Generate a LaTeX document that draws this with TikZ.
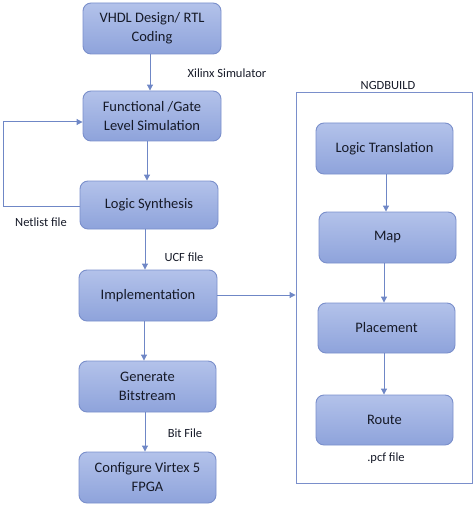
\documentclass[tikz,border=0pt]{standalone}
\usepackage{fontspec}
\setmainfont{Carlito}
\usetikzlibrary{arrows.meta}
\definecolor{boxtop}{HTML}{B3C2EA}
\definecolor{boxbot}{HTML}{8EA3DB}
\definecolor{boxline}{HTML}{7A8FCB}
\definecolor{arr}{HTML}{6F87C6}
\definecolor{txt}{HTML}{161A28}
\tikzset{
  x=1pt,y=-1pt,
  procbox/.style={draw=boxline,line width=0.9pt,rounded corners=8pt,top color=boxtop,bottom color=boxbot,
    text=txt,font=\fontsize{14.5}{19}\selectfont,align=center,inner sep=0pt},
  conn/.style={draw=arr,line width=1pt,-{Triangle[width=6pt,length=6pt]}},
  lbl/.style={text=txt,font=\fontsize{12.5}{15}\selectfont,inner sep=0pt},
}
\begin{document}
\begin{tikzpicture}
\useasboundingbox (0,0) rectangle (474,505);
% left column
\node[procbox,minimum width=138pt,minimum height=51pt] (vhdl) at (152,28.5) {VHDL Design/ RTL\\Coding};
\node[procbox,minimum width=138pt,minimum height=50pt] (func) at (152,116) {Functional /Gate\\Level Simulation};
\node[procbox,minimum width=138pt,minimum height=48pt] (syn) at (149,205) {Logic Synthesis};
\node[procbox,minimum width=138pt,minimum height=51pt] (impl) at (148,295.5) {Implementation};
\node[procbox,minimum width=137pt,minimum height=51pt] (gen) at (147.5,386.5) {Generate\\Bitstream};
\node[procbox,minimum width=137pt,minimum height=51pt] (conf) at (147.5,477.5) {Configure Virtex 5\\FPGA};
% container
\node[draw=boxline,line width=0.9pt,minimum width=176pt,minimum height=391pt,inner sep=0pt] (cont) at (384,287.5) {};
\node[lbl] (ngd) at (388,85) {NGDBUILD};
\node[procbox,minimum width=137pt,minimum height=51pt] (lt) at (384.5,148.5) {Logic Translation};
\node[procbox,minimum width=137pt,minimum height=51pt] (map) at (387.5,237.5) {Map};
\node[procbox,minimum width=137pt,minimum height=50pt] (plc) at (386.5,328) {Placement};
\node[procbox,minimum width=137pt,minimum height=50pt] (rte) at (384.5,420) {Route};
\node[lbl] (pcf) at (386,458) {.pcf file};
% labels
\node[lbl] (xil) at (227,73) {Xilinx Simulator};
\node[lbl] (net) at (41,222) {Netlist file};
\node[lbl] (ucf) at (184,257) {UCF file};
\node[lbl] (bit) at (185,433) {Bit File};
% connectors
\draw[conn] (vhdl.south -| 150,0) -- (func.north -| 150,0);
\draw[conn] (func.south -| 147,0) -- (syn.north -| 147,0);
\draw[conn] (syn.south -| 145,0) -- (impl.north -| 145,0);
\draw[conn] (impl.south -| 144,0) -- (gen.north -| 144,0);
\draw[conn] (gen.south -| 145,0) -- (conf.north -| 145,0);
\coordinate (fb1) at (3,206);
\coordinate (fb2) at (3,122);
\draw[conn] (syn.west |- fb1) -- (fb1) -- (fb2) -- (func.west |- fb2);
\draw[conn] (impl.east |- 0,295) -- (cont.west |- 0,295);
\draw[conn] (lt.south -| 386,0) -- (map.north -| 386,0);
\draw[conn] (map.south -| 384,0) -- (plc.north -| 384,0);
\draw[conn] (plc.south -| 384,0) -- (rte.north -| 384,0);
\end{tikzpicture}
\end{document}
